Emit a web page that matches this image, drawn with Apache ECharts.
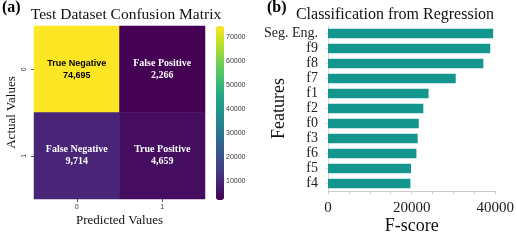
<!DOCTYPE html>
<html>
<head>
<meta charset="utf-8">
<script src="https://cdn.jsdelivr.net/npm/echarts@6/dist/echarts.min.js"></script>
<style>
html,body{margin:0;padding:0;background:#fff;}
#c{width:517px;height:240px;}
</style>
</head>
<body>
<div id="c"></div>
<script>
// ---- Panel (a): confusion matrix ----
const cmX = ['0', '1'];                // predicted
const cmY = ['0', '1'];                // actual
const cmNames = [['True Negative', 'False Positive'], ['False Negative', 'True Positive']];
const cmValues = [[74695, 2266], [9714, 4659]];
const cbTicks = [10000, 20000, 30000, 40000, 50000, 60000, 70000];

// ---- Panel (b): feature importance ----
const features = ['Seg. Eng.', 'f9', 'f8', 'f7', 'f1', 'f2', 'f0', 'f3', 'f6', 'f5', 'f4'];
const fscores = [39500, 38800, 37150, 30550, 24050, 22800, 21700, 21450, 21150, 19850, 19700];
const fTicks = [0, 20000, 40000];

const viridis = ['#440154', '#482475', '#414487', '#355f8d', '#2a788e', '#21918c', '#22a884', '#44bf70', '#7ad151', '#bddf26', '#fde725'];
const SERIF = 'Liberation Serif';
const SANS = 'Liberation Sans';

const allVals = cmValues.flat();
const vMin = Math.min(...allVals), vMax = Math.max(...allVals);

const heatData = [];
for (let r = 0; r < cmY.length; r++) {
  for (let c = 0; c < cmX.length; c++) {
    const v = cmValues[r][c];
    const bright = v > (vMin + vMax) / 2;
    heatData.push({
      value: [c, r, v],
      label: bright
        ? { color: '#000', fontFamily: SANS, fontWeight: 'bold', fontSize: 9 }
        : { color: '#fff', fontFamily: SERIF, fontWeight: 'bold', fontSize: 10 },
      cname: cmNames[r][c]
    });
  }
}

const plain = v => String(v);

const chart = echarts.init(document.getElementById('c'), null, { renderer: 'canvas' });
chart.setOption({
  animation: false,
  backgroundColor: '#fff',
  grid: [
    { left: 34, top: 26, width: 171, height: 173 },
    { left: 216, top: 26, width: 8, height: 174 },
    { left: 328, top: 26, width: 172, height: 172 }
  ],
  xAxis: [
    {
      gridIndex: 0, type: 'category', data: cmX,
      axisLine: { show: false },
      axisTick: { show: true, alignWithLabel: true, length: 3, lineStyle: { color: '#555' } },
      axisLabel: { fontFamily: SANS, fontSize: 7, color: '#333', margin: 5 },
      splitLine: { show: false },
      name: 'Predicted Values', nameLocation: 'middle', nameGap: 15, nameMoveOverlap: false,
      nameTextStyle: { fontFamily: SERIF, fontSize: 13, color: '#111' }
    },
    { gridIndex: 1, type: 'value', show: false },
    {
      gridIndex: 2, type: 'value', min: 0, max: 40000, interval: 5000,
      axisLine: { show: true, lineStyle: { color: '#ccc' } },
      axisTick: { show: true, length: 3, lineStyle: { color: '#ccc' } },
      axisLabel: { customValues: fTicks, formatter: plain, fontFamily: SERIF, fontSize: 15, color: '#222', margin: 10 },
      splitLine: { show: false },
      name: 'F-score', nameLocation: 'middle', nameGap: 26, nameMoveOverlap: false,
      nameTextStyle: { fontFamily: SERIF, fontSize: 18, color: '#111' }
    }
  ],
  yAxis: [
    {
      gridIndex: 0, type: 'category', data: cmY, inverse: true,
      axisLine: { show: false },
      axisTick: { show: true, alignWithLabel: true, length: 3, lineStyle: { color: '#555' } },
      axisLabel: { fontFamily: SANS, fontSize: 7, color: '#333', margin: 6, rotate: 90 },
      splitLine: { show: false },
      name: 'Actual Values', nameLocation: 'middle', nameGap: 16, nameMoveOverlap: false,
      nameTextStyle: { fontFamily: SERIF, fontSize: 13, color: '#111' }
    },
    {
      gridIndex: 1, type: 'value', min: vMin, max: vMax, position: 'right',
      axisLine: { show: false },
      axisTick: { show: true, customValues: cbTicks, length: 3, lineStyle: { color: '#444' } },
      axisLabel: { customValues: cbTicks, formatter: plain, fontFamily: SANS, fontSize: 7, color: '#333', margin: 2 },
      splitLine: { show: false }
    },
    {
      gridIndex: 2, type: 'category', data: features, inverse: true,
      axisLine: { show: true, lineStyle: { color: '#ddd' } },
      axisTick: { show: true, alignWithLabel: true, interval: 0, length: 3, lineStyle: { color: '#ddd' } },
      axisLabel: { interval: 0, fontFamily: SERIF, fontSize: 14, color: '#222', margin: 10 },
      splitLine: { show: false },
      name: 'Features', nameLocation: 'middle', nameGap: 40, nameMoveOverlap: false,
      nameTextStyle: { fontFamily: SERIF, fontSize: 18, color: '#111' }
    }
  ],
  visualMap: {
    type: 'continuous', min: vMin, max: vMax, seriesIndex: 0,
    calculable: false, left: 216, top: 26, itemWidth: 8, itemHeight: 174,
    padding: 0, inRange: { color: viridis }, hoverLink: false
  },
  series: [
    {
      type: 'heatmap', xAxisIndex: 0, yAxisIndex: 0, data: heatData,
      label: {
        show: true, lineHeight: 12,
        formatter: p => p.data.cname + '\n' + p.value[2].toLocaleString('en-US')
      },
      itemStyle: { borderWidth: 0 }
    },
    {
      type: 'bar', xAxisIndex: 2, yAxisIndex: 2, data: fscores,
      barCategoryGap: '38%',
      itemStyle: { color: '#14968f' }
    }
  ],
  graphic: [
    { type: 'text', left: 2, top: 0, style: { text: '(a)', font: 'bold 16px "Liberation Serif"', fill: '#000' } },
    { type: 'text', x: 126, y: 15, style: { text: 'Test Dataset Confusion Matrix', font: '15.5px "Liberation Serif"', fill: '#111', textAlign: 'center', textVerticalAlign: 'middle' } },
    { type: 'text', left: 267, top: 0, style: { text: '(b)', font: 'bold 16px "Liberation Serif"', fill: '#000' } },
    { type: 'text', x: 395, y: 15, style: { text: 'Classification from Regression', font: '16px "Liberation Serif"', fill: '#111', textAlign: 'center', textVerticalAlign: 'middle' } }
  ]
});
</script>
</body>
</html>
